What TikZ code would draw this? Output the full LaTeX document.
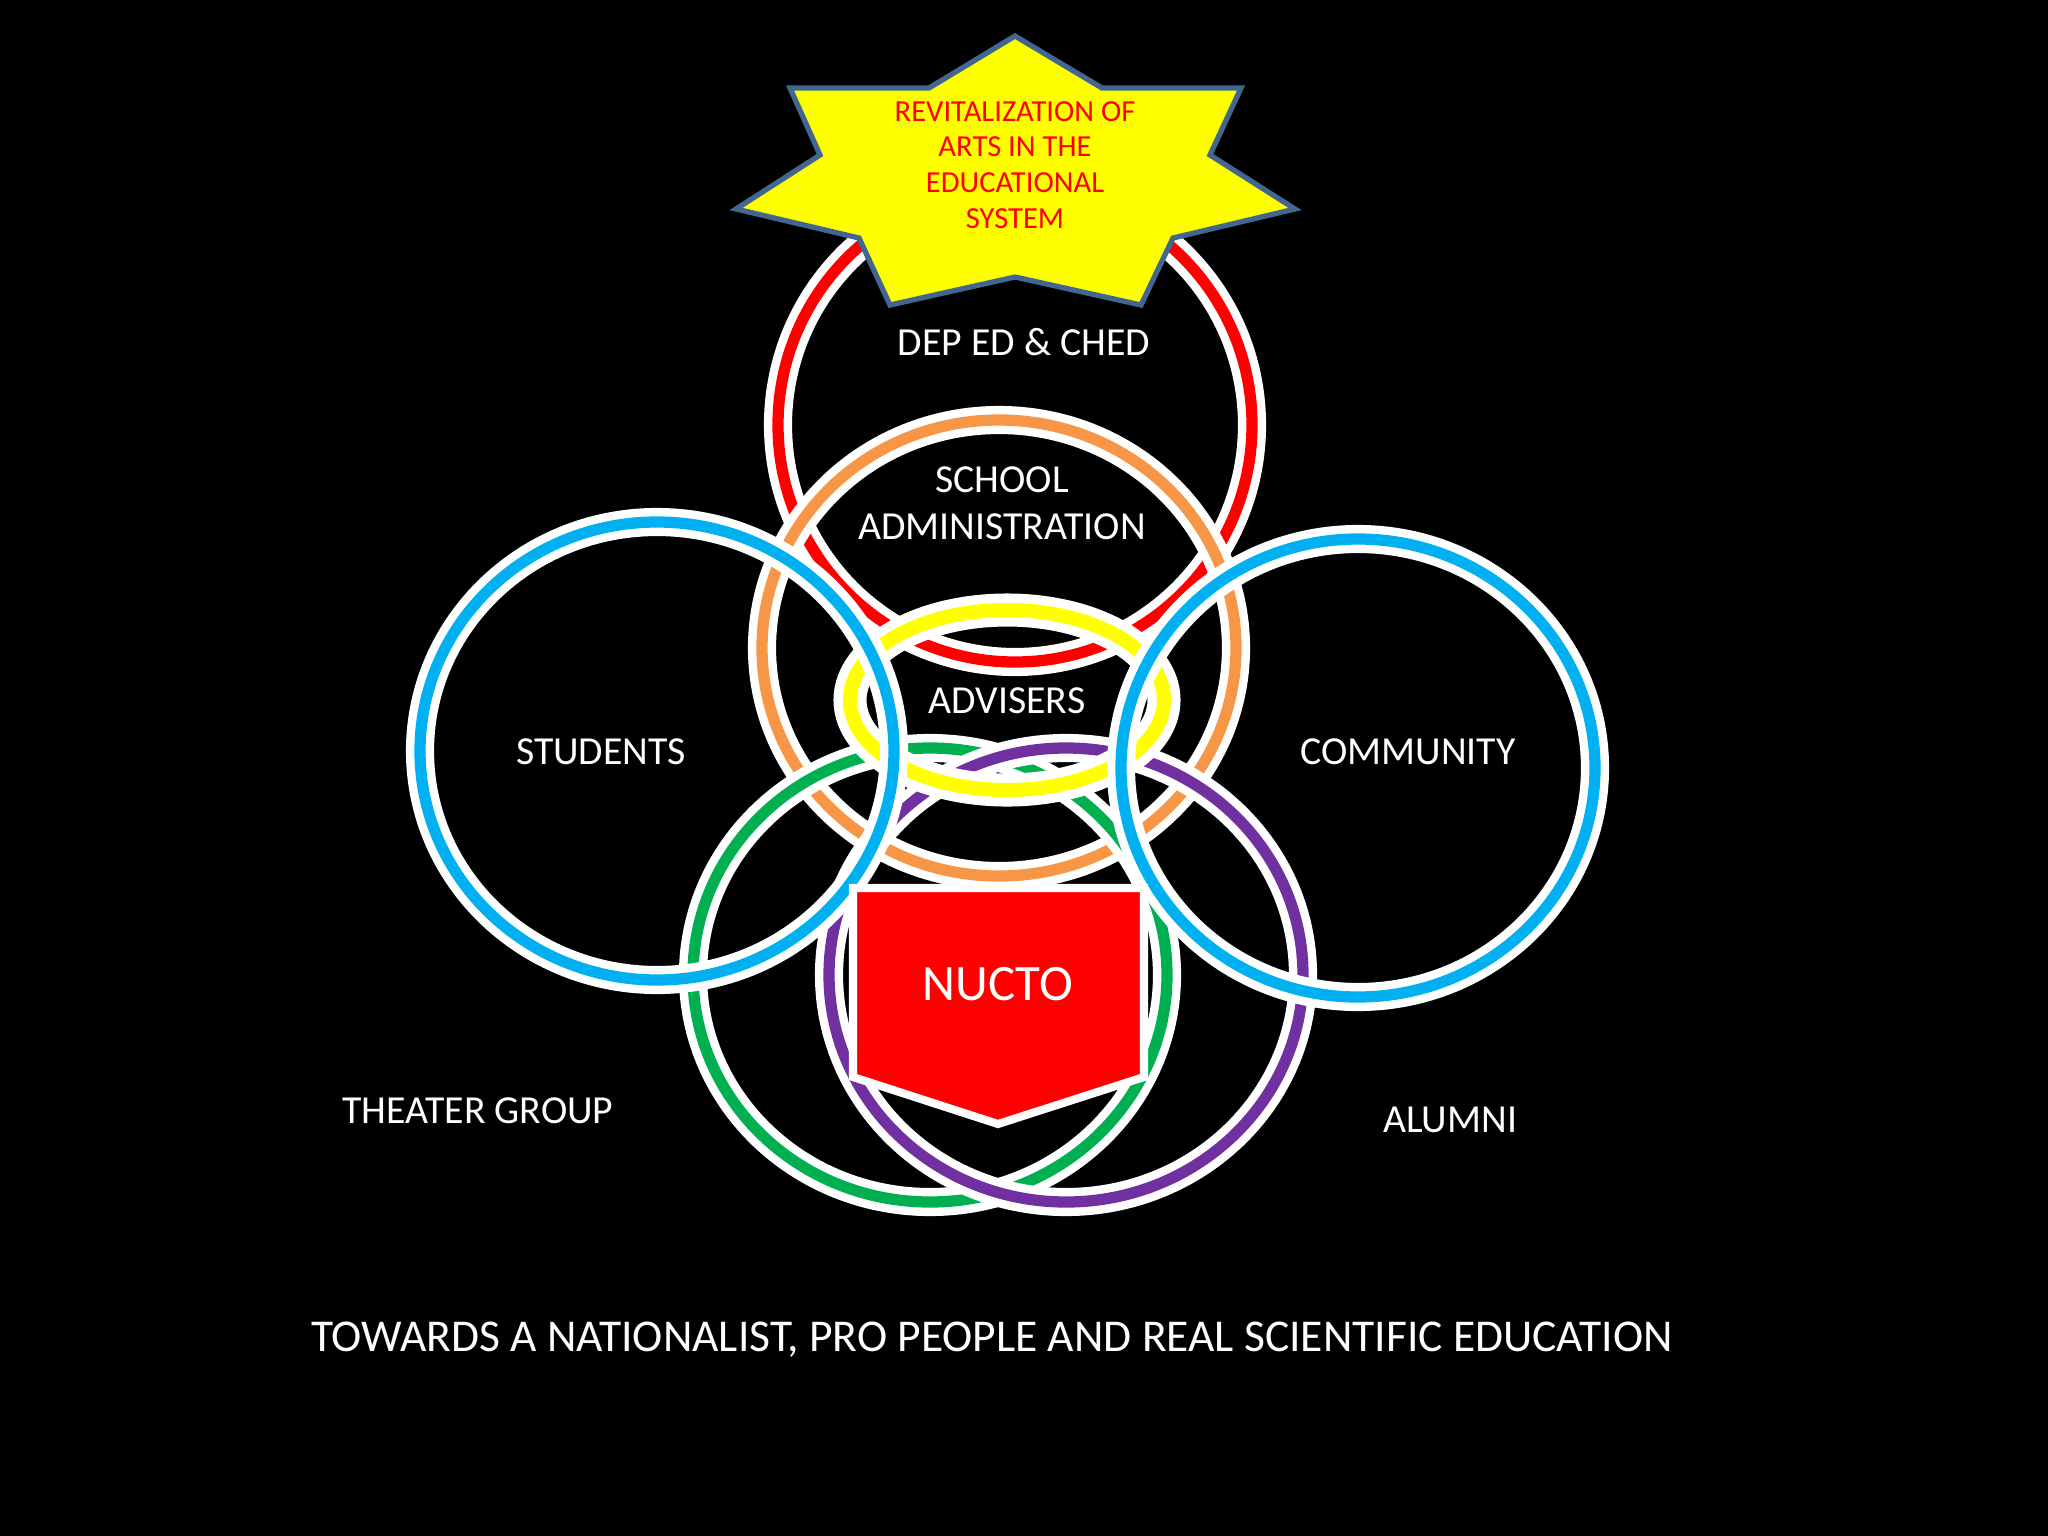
\documentclass[tikz,border=0pt]{standalone}
\usepackage{fontspec}
\setmainfont{Carlito}
\definecolor{ringorange}{HTML}{F79646}
\definecolor{ringgreen}{HTML}{00B050}
\definecolor{ringpurple}{HTML}{7030A0}
\definecolor{ringblue}{HTML}{00B0F0}
\definecolor{ringyellow}{HTML}{FFFF00}
\definecolor{starblue}{HTML}{41668F}
\begin{document}
\begin{tikzpicture}[x=0.01cm,y=-0.01cm,
   ring/.style={draw=white,line width=2.4pt,double distance=3.2pt},
   wide ring/.style={draw=white,line width=2.7pt,double distance=4pt},
   label/.style={text=white,align=center,font=\fontsize{11.3}{13.4}\selectfont}]
\useasboundingbox (0,0) rectangle (2048,1536);
\fill[black] (0,0) rectangle (2048,1536);
% rings, back to front
\foreach \cx/\cy/\rx/\ry/\col in {1015/425/237/237/red,
    999/648/237/228/ringorange,
    930/975/237/227/ringgreen,
    1066/975/237/227/ringpurple}
  \draw[ring,double=\col] (\cx,\cy) ellipse ({\rx} and {\ry*1});
\draw[wide ring,double=ringyellow] (1007,700) ellipse (157 and 90);
\foreach \cx/\cy/\rx/\ry/\col in {657/751/237/229/ringblue,
    1358/768/237/229/ringblue}
  \draw[ring,double=\col] (\cx,\cy) ellipse ({\rx} and {\ry*1});
% pocket
\draw[white,line width=2.3pt,fill=red,miter limit=10] (853,888) -- (1144,888) -- (1144,1077)
   -- (998,1124) -- (853,1077) -- cycle;
% star
\draw[starblue,line width=1.5pt,fill=ringyellow,line join=miter] (1015,36) -- (1102,88) -- (1241,88)
   -- (1210,155) -- (1295,209) -- (1173,238) -- (1141,305) -- (1015,277) -- (890,305)
   -- (859,238) -- (736,209) -- (820,155) -- (790,88) -- (929,88) -- cycle;
\node[text=red,align=center,font=\fontsize{8.7}{10.2}\selectfont] (revival) at (1015,165)
   {REVITALIZATION OF\\ARTS IN THE\\EDUCATIONAL\\SYSTEM};
\node[label] (deped) at (1024,342) {DEP ED \& CHED};
\node[label] (school) at (1002,503) {SCHOOL\\ADMINISTRATION};
\node[label] (advisers) at (1007,701) {ADVISERS};
\node[label] (students) at (601,752) {STUDENTS};
\node[label] (community) at (1408,752) {COMMUNITY};
\node[label] (theater) at (478,1111) {THEATER GROUP};
\node[label] (alumni) at (1450,1120) {ALUMNI};
\node[label,font=\fontsize{14.5}{17}\selectfont] (nucto) at (998,984) {NUCTO};
\node[label,font=\fontsize{12.95}{15}\selectfont] (towards) at (992,1340)
   {TOWARDS A NATIONALIST, PRO PEOPLE AND REAL SCIENTIFIC EDUCATION};
\end{tikzpicture}
\end{document}
